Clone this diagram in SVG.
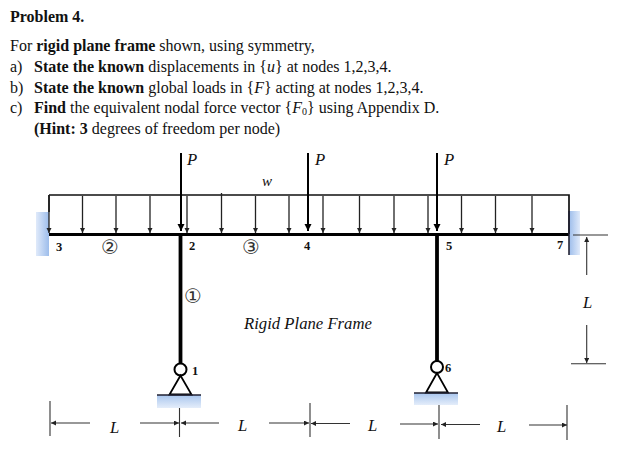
<svg xmlns="http://www.w3.org/2000/svg" width="635" height="455" viewBox="0 0 635 455">
<style>
text{font-family:"Liberation Serif","Times New Roman",serif;fill:#111}
.t{font-size:16px}
.b{font-weight:bold}
.i{font-style:italic}
.n{font-size:12.500px;font-weight:bold}
.e{font-size:20px;font-family:"DejaVu Sans",sans-serif;fill:#333}
.v{font-size:16.700px;font-style:italic}
.m{fill:none;stroke:#000;stroke-width:3.2}
.c{fill:none;stroke:#000;stroke-width:3.8}
.l{fill:none;stroke:#111;stroke-width:1.700}
.a{fill:none;stroke:#222;stroke-width:1.3;marker-end:url(#s)}
.p{fill:none;stroke:#000;stroke-width:2;marker-end:url(#h)}
.d{fill:none;stroke:#333;stroke-width:1.1}
.da{fill:none;stroke:#333;stroke-width:1.1;marker-end:url(#s)}
</style>
<defs>
<marker id="s" markerUnits="userSpaceOnUse" markerWidth="6" markerHeight="6" refX="5" refY="2.5" orient="auto"><path d="M0 0L5 2.5L0 5Z" fill="#222"/></marker>
<marker id="h" markerUnits="userSpaceOnUse" markerWidth="8" markerHeight="8" refX="7" refY="3.5" orient="auto"><path d="M0 0L7 3.5L0 7Z" fill="#000"/></marker>
<linearGradient id="gv" x1="0" y1="0" x2="0" y2="1"><stop offset="0" stop-color="#a9c6ee"/><stop offset="1" stop-color="#e4edfa"/></linearGradient>
<linearGradient id="gl" x1="0" y1="0" x2="1" y2="0"><stop offset="0" stop-color="#e0eafa"/><stop offset="1" stop-color="#9dbdeb"/></linearGradient>
<linearGradient id="gr" x1="0" y1="0" x2="1" y2="0"><stop offset="0" stop-color="#9dbdeb"/><stop offset="1" stop-color="#e0eafa"/></linearGradient>
</defs>

<g id="problem-text" class="t">
<text x="10" y="22" class="b">Problem 4.</text>
<text x="10" y="51">For <tspan class="b">rigid plane frame</tspan> shown, using symmetry,</text>
<text x="10" y="72">a)</text><text x="34" y="72"><tspan class="b">State the known</tspan> displacements in {<tspan class="i">u</tspan>} at nodes 1,2,3,4.</text>
<text x="10" y="93">b)</text><text x="34" y="93"><tspan class="b">State the known</tspan> global loads in {<tspan class="i">F</tspan>} acting at nodes 1,2,3,4.</text>
<text x="10" y="113">c)</text><text x="34" y="113"><tspan class="b">Find</tspan> the equivalent nodal force vector {<tspan class="i">F</tspan><tspan font-size="10" dy="2">0</tspan><tspan dy="-2">}</tspan> using Appendix D.</text>
<text x="34" y="134"><tspan class="b">(Hint: 3</tspan> degrees of freedom per node)</text>
</g>

<g id="wall-left"><rect x="36" y="212" width="13" height="44" fill="url(#gl)"/></g>
<g id="wall-right"><rect x="569" y="211" width="11" height="44" fill="url(#gr)"/></g>
<g id="support-1-plate"><rect x="157" y="395" width="44" height="13" fill="url(#gv)"/></g>
<g id="support-6-plate"><rect x="414" y="393" width="44" height="12" fill="url(#gv)"/></g>

<g id="connectors">
<path class="m" d="M49 234.500H569"/>
<path class="c" d="M180.500 235V363"/>
<path class="c" d="M437 235V361"/>
<path class="l" d="M49 195H569V234"/>
<path class="l" d="M49 195V212"/>
<path d="M569 211V255" stroke="#223" stroke-width="1.600" fill="none"/>
<path class="a" d="M49 195V233"/><path class="a" d="M82.500 196V233"/><path class="a" d="M116 196V233"/><path class="a" d="M150 196V233"/>
<path class="a" d="M187 196V233"/><path class="a" d="M221.500 193V233"/><path class="a" d="M255.500 196V233"/><path class="a" d="M289 196V233"/>
<path class="a" d="M323 196V233"/><path class="a" d="M359.500 196V233"/><path class="a" d="M394 196V233"/><path class="a" d="M428 196V233"/>
<path class="a" d="M461.500 196V233"/><path class="a" d="M495.500 196V233"/><path class="a" d="M532 196V233"/>
<path class="p" d="M181 153V231"/>
<path class="p" d="M308 153V231"/>
<path class="p" d="M437 153V231"/>
<path class="d" d="M50 401V436M179.500 408V437M310 403V437M439 405V439M567 405V440"/>
<path class="da" d="M90 423H51"/><path class="da" d="M140 423H179"/><path class="da" d="M219 423H181"/><path class="da" d="M269 423H309"/>
<path class="da" d="M350 423.500H311"/><path class="da" d="M400 424H438"/><path class="da" d="M480 424.500H441"/><path class="da" d="M529 425H567"/>
<path class="d" d="M573 235H608M571 363.700H606"/>
<path class="da" d="M586.700 275V237"/><path class="da" d="M586.700 325V363"/>
</g>

<g id="node-1"><circle cx="180.500" cy="369.500" r="6" fill="#fff" stroke="#000" stroke-width="2"/><path d="M180.500 375.500L169.500 394.500H191.500Z" fill="none" stroke="#000" stroke-width="1.800"/><path d="M157 395H201" stroke="#223" stroke-width="1.300"/><text x="192" y="374.500" class="n">1</text></g>
<g id="node-2"><text x="189" y="250" class="n">2</text></g>
<g id="node-3"><text x="56" y="251" class="n">3</text></g>
<g id="node-4"><text x="304" y="250" class="n">4</text></g>
<g id="node-5"><text x="446" y="250" class="n">5</text></g>
<g id="node-6"><circle cx="437" cy="367" r="6" fill="#fff" stroke="#000" stroke-width="2"/><path d="M437 373L426 392.500H448Z" fill="none" stroke="#000" stroke-width="1.800"/><path d="M414 393H458" stroke="#223" stroke-width="1.300"/><text x="445" y="371.500" class="n">6</text></g>
<g id="node-7"><text x="557" y="249" class="n">7</text></g>

<g id="labels">
<text x="187" y="165" class="v">P</text>
<text x="315" y="165" class="v">P</text>
<text x="444" y="165" class="v">P</text>
<text x="262" y="186" class="i" font-size="15">w</text>
<text x="110" y="253.500" class="e" text-anchor="middle">②</text>
<text x="251" y="253.500" class="e" text-anchor="middle">③</text>
<text x="193" y="302.500" class="e" text-anchor="middle">①</text>
<text x="244" y="329" class="v">Rigid Plane Frame</text>
<text x="110" y="433" class="v">L</text>
<text x="238" y="431" class="v">L</text>
<text x="368" y="431" class="v">L</text>
<text x="497" y="432" class="v">L</text>
<text x="583" y="308" class="v">L</text>
</g>
</svg>
